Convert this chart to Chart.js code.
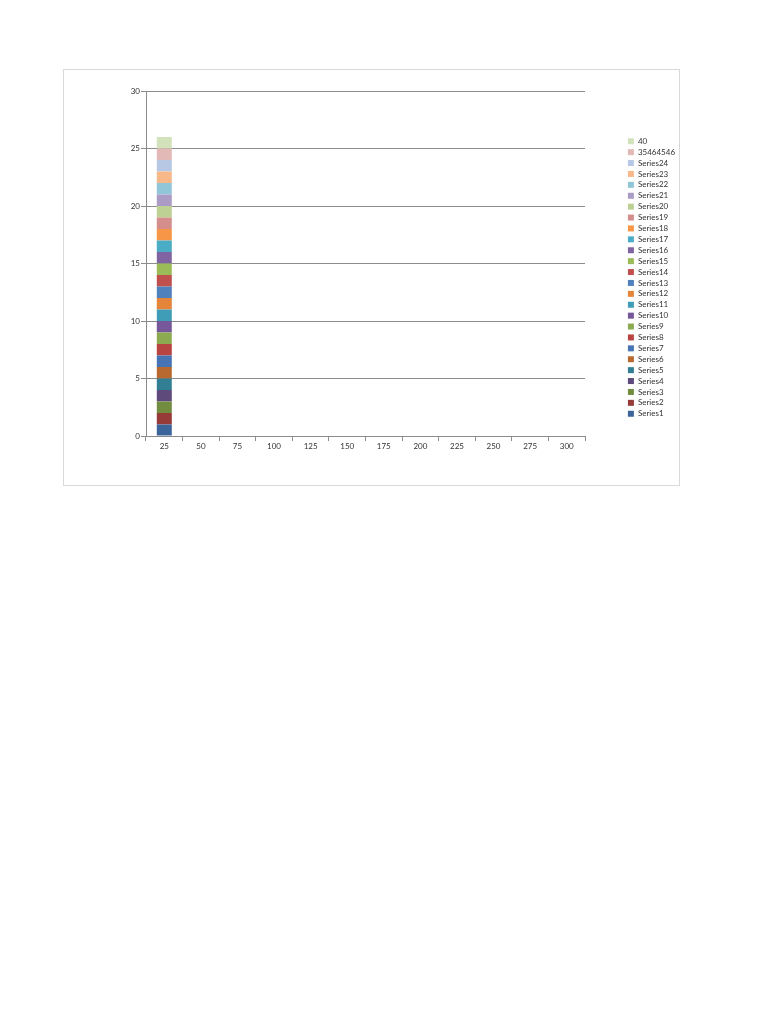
<!DOCTYPE html>
<html lang="en">
<head>
  <meta charset="UTF-8">
  <title>Stacked Series Chart</title>
  <script src="https://cdn.jsdelivr.net/npm/chart.js"></script>
  <style>
    body { margin: 0; background: #fff; }
    #box {
      position: absolute; left: 63px; top: 69px;
      width: 615px; height: 415px;
      border: 1px solid #d9d9d9;
    }
  </style>
</head>
<body>
  <div id="box"><canvas id="chart"></canvas></div>

  <script>
    // categories on the x axis
    const categories = ['25', '50', '75', '100', '125', '150', '175', '200', '225', '250', '275', '300'];
    // y axis range
    const yMin = 0, yMax = 30, yStep = 5;
    // one series per stacked segment
    const seriesNames = [
      'Series1', 'Series2', 'Series3', 'Series4', 'Series5', 'Series6',
      'Series7', 'Series8', 'Series9', 'Series10', 'Series11', 'Series12',
      'Series13', 'Series14', 'Series15', 'Series16', 'Series17', 'Series18',
      'Series19', 'Series20', 'Series21', 'Series22', 'Series23', 'Series24',
      '35464546', '40'
    ];
    // value of each series at the first category (others empty)
    const firstCategoryValues = [1, 1, 1, 1, 1, 1, 1, 1, 1, 1, 1, 1, 1, 1, 1, 1, 1, 1, 1, 1, 1, 1, 1, 1, 1, 1];
    const seriesColors = [
      '#3b659a', '#973b39', '#728d3f', '#5f4a7c', '#327f93', '#b8692f',
      '#4674b5', '#b84441', '#8cab51', '#76589a', '#3f9db8', '#e4853a',
      '#4f81bd', '#c0504d', '#9bbb59', '#8064a2', '#4bacc6', '#f79646',
      '#d48f8d', '#bcd193', '#ab9cc6', '#90c6d8', '#f8b88a', '#b6c8e3',
      '#e3b9b8', '#d2e2bb'
    ];

    const datasets = seriesNames.map((name, i) => ({
      label: name,
      data: categories.map((c, j) => j === 0 ? firstCategoryValues[i] : null),
      backgroundColor: seriesColors[i],
      borderWidth: 0,
      barPercentage: 0.41,
      categoryPercentage: 1
    }));

    Chart.defaults.font.family = 'Lato, "Open Sans", sans-serif';
    Chart.defaults.font.size = 8;
    Chart.defaults.color = '#333';

    new Chart(document.getElementById('chart'), {
      type: 'bar',
      data: { labels: categories, datasets: datasets },
      options: {
        responsive: true,
        maintainAspectRatio: false,
        animation: false,
        layout: { padding: 0 },
        plugins: {
          tooltip: { enabled: false },
          legend: {
            position: 'right',
            reverse: true,
            maxWidth: 54,
            labels: { boxWidth: 6, boxHeight: 6, padding: 2.9, font: { size: 8 } }
          }
        },
        scales: {
          x: {
            stacked: true,
            grid: { drawOnChartArea: false, drawTicks: true, tickLength: 5, color: '#8c8c8c' },
            border: { color: '#8c8c8c' },
            ticks: { padding: 1, maxRotation: 0 },
            afterFit: s => { s.height = 49; }
          },
          y: {
            stacked: true,
            min: yMin,
            max: yMax,
            grid: { color: '#8c8c8c', tickLength: 5 },
            border: { color: '#8c8c8c' },
            ticks: { stepSize: yStep, padding: 1 },
            afterFit: s => { s.width = 82; }
          },
          // empty spacer axes that only reserve room
          topGap: {
            position: 'top',
            display: true,
            grid: { display: false },
            border: { display: false },
            ticks: { display: false },
            afterFit: s => { s.height = 21; }
          },
          gap: {
            position: 'right',
            display: true,
            grid: { display: false },
            border: { display: false },
            ticks: { display: false },
            afterFit: s => { s.width = 40; }
          }
        }
      }
    });
  </script>
</body>
</html>
